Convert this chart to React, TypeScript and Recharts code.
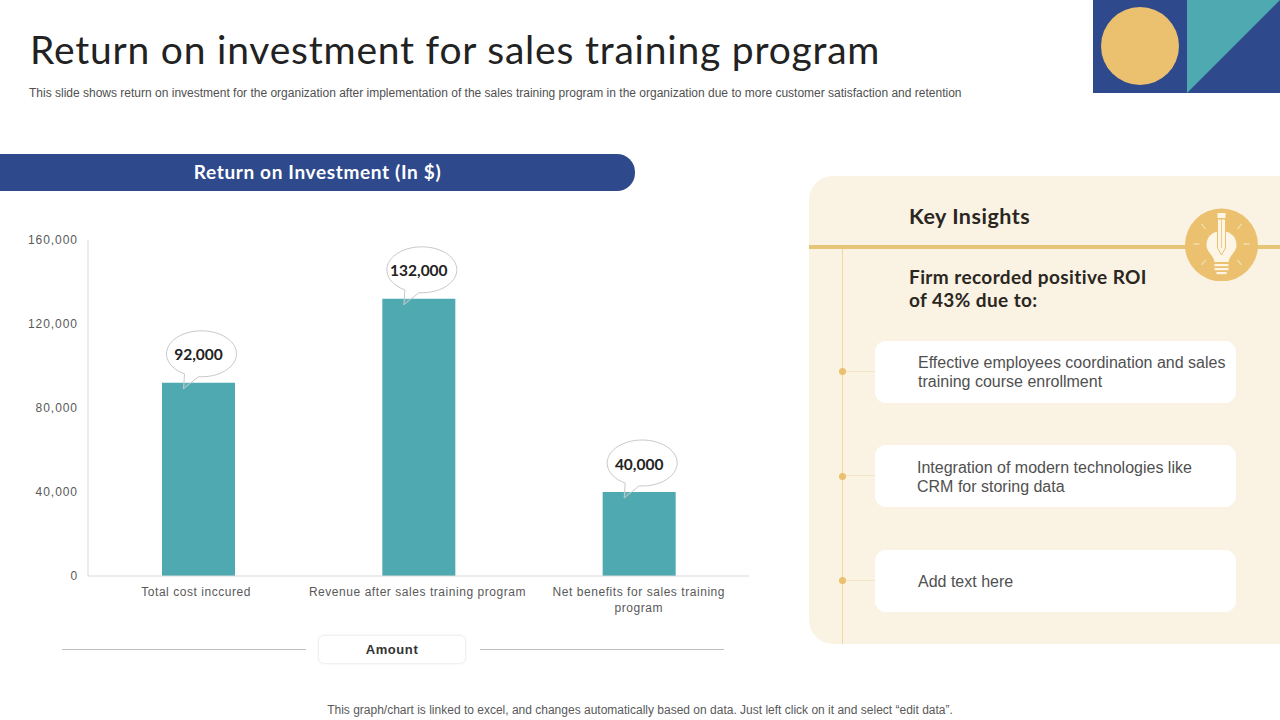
import React from "react";
import { BarChart, Bar, XAxis, YAxis, LabelList, Legend, Text } from "recharts";

const categories = ["Total cost inccured", "Revenue after sales training program", "Net benefits for sales training program"];
const amounts = [92000, 132000, 40000];
const yTicks = [0, 40000, 80000, 120000, 160000];
const insights = [
  ["Effective employees coordination and sales", "training course enrollment"],
  ["Integration of modern technologies like", "CRM for storing data"],
  ["Add text here"],
];
const rows = categories.map((name, i) => ({ name, Amount: amounts[i] }));

const BLUE = "#2F4A8C";
const TEAL = "#4EAAB0";
const GOLD = "#EBC16F";
const CREAM = "#FAF3E3";
const SANS = "'Liberation Sans', Arial, sans-serif";
const HEAD = "Lato, 'Open Sans', sans-serif";
const fmt = (v: number) => v.toLocaleString("en-US");

const abs = (l: number, t: number, w: number, h: number, extra: React.CSSProperties = {}): React.CSSProperties => ({
  position: "absolute", left: l, top: t, width: w, height: h, ...extra,
});

function Bubble(props: any) {
  const { x, y, width, value } = props;
  const mid = x + width / 2;
  const cx = mid + 3;
  const cy = y - 29;
  const rx = 35;
  const ry = 23;
  const tipX = mid - 15;
  const tipY = y + 6;
  const a1 = (119 * Math.PI) / 180;
  const a2 = (95 * Math.PI) / 180;
  const sx = cx + rx * Math.cos(a1);
  const sy = cy + ry * Math.sin(a1);
  const ex = cx + rx * Math.cos(a2);
  const ey = cy + ry * Math.sin(a2);
  return (
    <g>
      <path
        d={`M${tipX},${tipY} L${sx},${sy} A${rx},${ry} 0 1 1 ${ex},${ey} Z`}
        fill="#fff"
        fillOpacity={0.12}
        stroke="#c9c9c9"
        strokeWidth={1}
      />
      <text x={mid} y={cy + 6.5} textAnchor="middle" fontFamily={HEAD} fontWeight={700} fontSize={15.5} fill="#222">
        {fmt(value)}
      </text>
    </g>
  );
}

const xTickStyle = { fontFamily: SANS, fontSize: 12, letterSpacing: 0.55 };
const xTickWrap = [220, 320, 222];

function XTick(props: any) {
  const { x, y, payload, index } = props;
  return (
    <Text x={x - 2 + index} y={y + 3} width={xTickWrap[index]} textAnchor="middle" verticalAnchor="start" lineHeight={16}
      style={xTickStyle} fill="#595959">
      {payload.value}
    </Text>
  );
}

function AmountLegend(props: any) {
  const label = props.payload?.[0]?.value ?? "Amount";
  return (
    <div style={{ position: "relative", width: 780, height: 30 }}>
      <div style={abs(62, 14, 244, 1, { background: "#bfbfbf" })} />
      <div style={abs(480, 14, 244, 1, { background: "#bfbfbf" })} />
      <div style={abs(319, 1, 146, 27, {
        background: "#fff", borderRadius: 5, boxShadow: "0 0 3px rgba(0,0,0,0.16)",
        textAlign: "center", lineHeight: "27px", fontFamily: SANS, fontWeight: 700, fontSize: 13,
        letterSpacing: 0.6, color: "#333",
      })}>{label}</div>
    </div>
  );
}

function Bulb() {
  const rays = [[-20, -21, -16, -16], [20, -21, 16, -16], [-28, -1, -22, -1], [28, -1, 22, -1], [-20, 20, -16, 15], [20, 20, 16, 15]];
  return (
    <svg style={abs(1185, 208, 73, 73)} viewBox="-36.5 -37 73 73">
      <circle cx={0} cy={0} r={36.5} fill={GOLD} />
      {rays.map((r, i) => (
        <line key={i} x1={r[0]} y1={r[1]} x2={r[2]} y2={r[3]} stroke="#F6E3B8" strokeWidth={1.2} />
      ))}
      <path d="M-15,0 C-15,-9 -8,-14 0,-14 C8,-14 15,-9 15,0 C15,7 8,10 7,17 L-7,17 C-8,10 -15,7 -15,0 Z" fill="#FDF6E6" />
      <rect x={-4} y={-32} width={8} height={5} fill="#FDF6E6" />
      <path d="M-4,-26 L4,-26 L4,3 L0,10 L-4,3 Z" fill="#FDF6E6" stroke={GOLD} strokeWidth={1} />
      <line x1={0} y1={-26} x2={0} y2={3} stroke={GOLD} strokeWidth={0.8} />
      <rect x={-7} y={19} width={14} height={2.2} fill="#FDF6E6" />
      <rect x={-7} y={23} width={14} height={2.2} fill="#FDF6E6" />
      <rect x={-5} y={27} width={10} height={2.2} fill="#FDF6E6" />
    </svg>
  );
}

const cardTops = [341, 445, 550];
const cardNudge = [0, 1, 0];

export default function App() {
  return (
    <div style={{ position: "absolute", left: 0, top: 0, width: 1280, height: 720, overflow: "hidden", background: "#fff" }}>
      <div style={abs(30, 25, 1000, 48, { fontFamily: HEAD, fontWeight: 400, fontSize: 39, lineHeight: "48px", letterSpacing: 0.79, color: "#222", whiteSpace: "nowrap" })}>
        Return on investment for sales training program
      </div>
      <div style={abs(29, 85, 1000, 16, { fontFamily: SANS, fontSize: 12, lineHeight: "16px", color: "#505050", whiteSpace: "nowrap" })}>
        This slide shows return on investment for the organization after implementation of the sales training program in the organization due to more customer satisfaction and retention
      </div>

      <svg style={abs(1093, 0, 187, 93)} viewBox="0 0 187 93">
        <rect x={0} y={0} width={187} height={93} fill={BLUE} />
        <circle cx={47} cy={46} r={39} fill={GOLD} />
        <polygon points="94,0 187,0 94,93" fill={TEAL} />
      </svg>

      <div style={abs(0, 154, 635, 37, {
        background: BLUE, borderRadius: "0 18px 18px 0", color: "#fff", textAlign: "center",
        fontFamily: HEAD, fontWeight: 700, fontSize: 19, lineHeight: "36px", letterSpacing: 0.65,
      })}>
        Return on Investment (In $)
      </div>

      <div style={abs(0, 0, 780, 662)}>
        <BarChart width={780} height={662} data={rows} barSize={73} margin={{ top: 240, right: 31, bottom: 0, left: 0 }}>
          <XAxis dataKey="name" height={56} tick={<XTick />} tickLine={false} axisLine={{ stroke: "#d9d9d9" }} interval={0} />
          <YAxis width={88} domain={[0, 160000]} ticks={yTicks} tickFormatter={fmt} tickLine={false} tickMargin={4}
            axisLine={{ stroke: "#d9d9d9" }}
            tick={{ fontFamily: SANS, fontSize: 12, letterSpacing: 0.95, fill: "#595959" }} />
          <Legend verticalAlign="bottom" height={48} content={<AmountLegend />}
            wrapperStyle={{ left: 0, top: 635, width: 780, height: 30 }} />
          <Bar dataKey="Amount" fill={TEAL} isAnimationActive={false}>
            <LabelList dataKey="Amount" content={<Bubble />} />
          </Bar>
        </BarChart>
      </div>

      <div style={abs(809, 176, 471, 468, { background: CREAM, borderRadius: "24px 0 0 24px" })} />
      <div style={abs(842, 248, 1, 396, { background: "#EFD8A5" })} />
      <div style={abs(809, 244.5, 471, 4, { background: "#E6C478" })} />
      <div style={abs(909, 202, 300, 28, { fontFamily: HEAD, fontWeight: 700, fontSize: 21.5, lineHeight: "28px", letterSpacing: 0.5, color: "#2a2622" })}>Key Insights</div>
      <div style={abs(909, 265, 300, 46, { fontFamily: HEAD, fontWeight: 700, fontSize: 19, lineHeight: "23px", letterSpacing: 0.4, color: "#2a2622" })}>
        Firm recorded positive ROI<br />of 43% due to:
      </div>
      <Bulb />
      {cardTops.map((t, i) => (
        <React.Fragment key={i}>
          <div style={abs(842, t + 30, 33, 1, { background: "#F5E6C6" })} />
          <div style={abs(839, t + 27 + cardNudge[i], 7, 7, { background: GOLD, borderRadius: "50%" })} />
          <div style={abs(875, t, 361, 62, {
            background: "#fff", borderRadius: 11, display: "flex", flexDirection: "column", justifyContent: "center",
            paddingLeft: 43 - cardNudge[i], paddingTop: cardNudge[i] * 2, boxSizing: "border-box", fontFamily: SANS, fontSize: 16, lineHeight: "19px", color: "#505050",
          })}>
            {insights[i].map((line) => <div key={line} style={{ whiteSpace: "nowrap" }}>{line}</div>)}
          </div>
        </React.Fragment>
      ))}

      <div style={abs(0, 702, 1280, 16, { textAlign: "center", fontFamily: SANS, fontSize: 12, lineHeight: "16px", color: "#595959" })}>
        This graph/chart is linked to excel, and changes automatically based on data. Just left click on it and select “edit data”.
      </div>
    </div>
  );
}
